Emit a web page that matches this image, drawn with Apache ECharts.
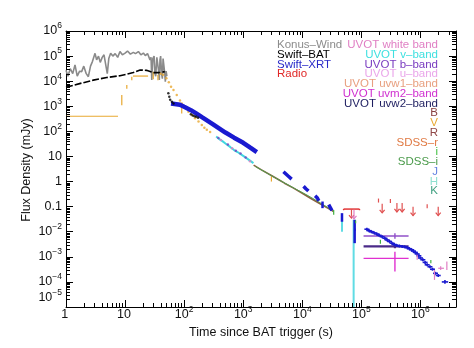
<!DOCTYPE html>
<html><head><meta charset="utf-8">
<script src="https://cdn.jsdelivr.net/npm/echarts@6/dist/echarts.min.js"></script>
<style>html,body{margin:0;padding:0;background:#fff}#c{width:474px;height:348px}</style>
</head><body><div id="c"></div>
<script>
// ---------------- DATA ----------------
const X_MIN = 1, X_MAX = 4e6, Y_MIN = 1e-5, Y_MAX = 1e6;

// Konus-Wind (gray)
const konusT = [1,1.08,1.18,1.3,1.42,1.55,1.7,1.84,2.0,2.2,2.39,2.6,2.8,3.1,3.3,3.55,3.8,4.1,4.4,4.7,5.0,5.3,5.7,6.2,6.8,7.5,8.2,9.0,10,11,12.3,13.8,15,16.8,18.5,20.4,22,24,26.4,27.5,28.3,29.5,31,32,33,34.5,35.8,37,38,39,40,41.5,42.8,44,45.7,47,48,49.5,51];
const konusF = [27500,15800,31600,20000,44700,15800,25100,24000,39800,20000,15100,39800,60300,128800,70800,100000,56200,89100,112200,95500,20000,79400,128800,100000,125900,89100,151400,112200,131800,158500,120200,141300,125900,151400,112200,131800,104700,125900,70800,89100,11200,79400,100000,20000,15800,89100,79400,25100,11200,70800,100000,20000,12600,79400,89100,20000,9500,25100,15800];

// Swift-BAT (black)
const batT = [1,1.7,2.9,4.9,8.2,13.8,18,23,30,39,47];
const batF = [5700,8000,11000,14000,16500,22000,28000,27000,22000,22000,24000];
const batLateT = [54,56,58,62,66,130,140,150,160,172];
const batLateF = [3300,2400,1800,1500,1300,480,430,400,380,350];

// Swift-XRT (blue) : thick segments
const xrtSegT = [
  [60,85,100,130,160,200,300,500,700,1000,1300,1700],
  [4800,5700,6600],
  [10500,11500,12700],
  [16500,18000,19000],
  [28000,30000,31800]
];
const xrtSegF = [
  [1300,1150,950,700,520,370,200,90,56,35,23,15],
  [2.45,1.7,1.25],
  [0.65,0.52,0.42],
  [0.27,0.22,0.17],
  [0.12,0.09,0.07]
];
// XRT vertical error bars [t, F, tLo, tHi, FLo, FHi]
const xrtBars = [
  [22000,0.12,22000,22000,0.087,0.16],
  [47000,0.042,47000,47000,0.025,0.055],
  [77000,0.012,75000,80000,0.0035,0.03]
];
// XRT late points
const xrtLateT = [1.24e5,1.35e5,1.48e5,1.65e5,1.83e5,2.0e5,2.25e5,2.5e5,2.73e5,3.0e5,3.3e5,3.6e5,4.0e5,4.4e5,4.9e5,5.4e5,6.0e5,6.5e5,7.1e5,7.6e5,8.2e5,8.8e5,9.4e5,1.0e6,1.1e6,1.2e6,1.3e6,1.45e6,1.6e6,1.8e6,2.0e6];
const xrtLateF = [0.0126,0.011,0.01,0.009,0.0081,0.0072,0.0063,0.0055,0.0047,0.0041,0.0035,0.0031,0.0028,0.0027,0.0026,0.0025,0.0023,0.0021,0.0019,0.0017,0.0015,0.0013,0.0011,0.0009,0.00076,0.0006,0.00048,0.0004,0.00032,0.00022,0.00018];
const xrtLast = [[2.6e6,1.0e-4,2.3e6,2.95e6,8.5e-5,1.2e-4]];

// V band (orange) early bars and decline
const vBars = [
  [3,400,1,7.6,400,400],
  [8.8,1800,8.8,8.8,1100,2800],
  [10.7,6000,10.7,10.7,5000,7000],
  [13,13000,13,13,11000,15000],
  [19,16000,13.6,24.5,16000,16000],
  [30,17000,30,30,12000,24000],
  [36,14000,36,36,11000,18000],
  [91,900,91,91,520,1300],
  [3000,1.3,3000,3000,1.0,1.6]
];
const vT = [40,44,50,55,60,66,75,85,91,105,118,135,153,175,199,220,242,275];
const vF = [20000,18000,13000,9000,6000,4500,2800,1700,1300,900,600,450,330,250,180,140,115,95];

// UVOT v band (cyan)
const uvvT = [348,400,450,500,600,700,800,1000,1200,1490];
const uvvF = [62,48,40,33,24,18,15,10.5,7.8,5.4];
const uvvBars = [
  [47000,0.018,47000,47000,0.01,0.028],
  [74000,0.02,74000,74000,1e-5,0.03]
];
// UVOT b band / white band points
const uvbT = [380,550,750,900,1100];
const uvbF = [55,30,17,13,9];
const uvwhT = [420,650,1300];
const uvwhF = [45,21,6.5];

// R band (brown) and SDSS-i (green) late lines
const rT = [1500,2000,3000,4000,5000,7000,10000,14000,20000,27000,34000];
const rF = [4.5,3.0,1.75,1.18,0.86,0.56,0.34,0.21,0.13,0.087,0.063];
const iT = [1600,2500,3500,5500,8000,12000,17000,24000,31000];
const iF = [4.0,2.2,1.4,0.78,0.48,0.29,0.18,0.11,0.075];
const iBars = [
  [34000,0.06,34000,34000,0.047,0.074],
  [80000,0.025,80000,80000,0.022,0.028],
  [2.1e5,0.004,2.1e5,2.1e5,0.0033,0.0048],
  [1.5e6,6.5e-4,1.5e6,1.5e6,5.5e-4,7.5e-4]
];

// late UVOT bars
const uvbLate = [[3.7e5,0.0068,1.09e5,6.3e5,0.0052,0.0087]];
const uvw2Late = [[3.7e5,0.0026,1.09e5,6.3e5,0.0022,0.003]];
const uvm2Late = [[3.7e5,8.7e-4,1.09e5,6.3e5,2.6e-4,1.6e-3]];
const whiteLate = [
  [8.8e5,9e-4,8.8e5,8.8e5,7.6e-4,1.2e-3],
  [1.73e6,2.0e-4,1.73e6,1.73e6,1.2e-4,3.0e-4],
  [2.2e6,3.5e-4,2.0e6,2.5e6,3.0e-4,4.2e-4],
  [2.8e6,4.6e-4,2.8e6,2.8e6,3.0e-4,6.5e-4]
];

// Radio (red)
const radioBar = [[7e4,0.08,5e4,9.3e4,0.08,0.08],[5e4,0.08,5e4,5e4,0.072,0.08],[9.3e4,0.08,9.3e4,9.3e4,0.072,0.08]];
const radioT = [6.8e4,1.95e5,2.25e5,3.1e5,4.0e5,4.9e5,7.5e5,1.3e6,2.0e6];
const radioF = [0.08,0.21,0.13,0.2,0.14,0.14,0.1,0.125,0.1];
const radioArrow = [1,0,1,0,1,1,1,0,1];
const whiteUL = [[7.5e4,0.075,1]];

// Legend texts
const legendLeft = ['Konus\u2013Wind','Swift\u2013BAT','Swift\u2013XRT','Radio'];
const legendLeftColors = ['#8c8c8c','#000000','#2a2ac8','#e02828'];
const legendRight = ['UVOT white band','UVOT v\u2013band','UVOT b\u2013band','UVOT u\u2013band','UVOT uvw1\u2013band','UVOT uvm2\u2013band','UVOT uvw2\u2013band','B','V','R','SDSS\u2013r','i','SDSS\u2013i','J','H','K'];
const legendRightColors = ['#e07fc4','#3fe0e0','#7a3cc0','#eaa6ea','#e8a080','#d030d0','#1e1e60','#8a4040','#e8a830','#904848','#e07a44','#40c040','#4a9a4a','#6080e0','#90e0d0','#40a080'];
const yTitle = 'Flux Density (mJy)';
const xTitle = 'Time since BAT trigger (s)';

// ---------------- CHART ----------------
const FONT = "'Liberation Sans', Arial, Helvetica, sans-serif";
const zip = (a, b) => a.map((v, i) => [v, b[i]]);

function errSeries(rows, color, width, z) {
  return {
    type: 'custom', coordinateSystem: 'cartesian2d', data: rows, encode: {x: 0, y: 1},
    z: z || 5, silent: true, animation: false,
    renderItem(params, api) {
      const t = api.value(0), f = api.value(1), t0 = api.value(2), t1 = api.value(3), f0 = api.value(4), f1 = api.value(5);
      const ch = [];
      if (t1 > t0) {
        const a = api.coord([t0, f]), b = api.coord([t1, f]);
        ch.push({type: 'line', shape: {x1: a[0], y1: a[1], x2: b[0], y2: b[1]}, style: {stroke: color, lineWidth: width}});
      }
      if (f1 > f0) {
        const a = api.coord([t, f0]), b = api.coord([t, f1]);
        ch.push({type: 'line', shape: {x1: a[0], y1: a[1], x2: b[0], y2: b[1]}, style: {stroke: color, lineWidth: width}});
      }
      return {type: 'group', children: ch};
    }
  };
}
function crossSeries(rows, color) {
  return {
    type: 'custom', coordinateSystem: 'cartesian2d', data: rows, encode: {x: 0, y: 1}, z: 6, silent: true,
    renderItem(params, api) {
      const p = api.coord([api.value(0), api.value(1)]);
      return {type: 'group', children: [
        {type: 'line', shape: {x1: p[0] - 2.5, y1: p[1], x2: p[0] + 2.5, y2: p[1]}, style: {stroke: color, lineWidth: 1.6}},
        {type: 'line', shape: {x1: p[0], y1: p[1] - 1.5, x2: p[0], y2: p[1] + 1.5}, style: {stroke: color, lineWidth: 1.6}}
      ]};
    }
  };
}
function ulSeries(rows, color) {
  return {
    type: 'custom', coordinateSystem: 'cartesian2d', data: rows, encode: {x: 0, y: 1}, z: 6, silent: true,
    renderItem(params, api) {
      const p = api.coord([api.value(0), api.value(1)]);
      const arrow = api.value(2);
      const L = arrow ? 9 : 4;
      const ch = [{type: 'line', shape: {x1: p[0], y1: p[1], x2: p[0], y2: p[1] + L}, style: {stroke: color, lineWidth: 1.2}}];
      if (arrow) ch.push({type: 'polyline', shape: {points: [[p[0] - 2.5, p[1] + L - 3], [p[0], p[1] + L], [p[0] + 2.5, p[1] + L - 3]]}, style: {stroke: color, fill: null, lineWidth: 1.2}});
      return {type: 'group', children: ch};
    }
  };
}

// minor tick positions (2..9 x 10^k)
const minorRows = [];
for (let e = 0; e <= 6; e++) for (let m = 2; m <= 9; m++) { const v = m * Math.pow(10, e); if (v < X_MAX) minorRows.push([v, Y_MIN, 0]); }
for (let e = -5; e <= 5; e++) for (let m = 2; m <= 9; m++) minorRows.push([X_MIN, m * Math.pow(10, e), 1]);
const minorSeries = {
  type: 'custom', coordinateSystem: 'cartesian2d', data: minorRows, encode: {x: 0, y: 1}, z: 20, silent: true,
  renderItem(params, api) {
    const cs = params.coordSys;
    const st = {stroke: '#000', lineWidth: 1};
    if (api.value(2) === 0) {
      const x = Math.round(api.coord([api.value(0), Y_MIN])[0]) + 0.5;
      return {type: 'group', children: [
        {type: 'line', shape: {x1: x, y1: cs.y + cs.height, x2: x, y2: cs.y + cs.height - 4}, style: st},
        {type: 'line', shape: {x1: x, y1: cs.y, x2: x, y2: cs.y + 4}, style: st}
      ]};
    }
    const y = Math.round(api.coord([X_MIN, api.value(1)])[1]) + 0.5;
    return {type: 'group', children: [
      {type: 'line', shape: {x1: cs.x, y1: y, x2: cs.x + 4, y2: y}, style: st},
      {type: 'line', shape: {x1: cs.x + cs.width, y1: y, x2: cs.x + cs.width - 4, y2: y}, style: st}
    ]};
  }
};

function powLabel(v, isY) {
  const l = Math.log10(v), e = Math.round(l);
  if (Math.abs(l - e) > 1e-6) return '';
  if (e === 0) return isY ? '{b|1}' : '{b|1}{s| }';
  if (e === 1) return isY ? '{b|10}' : '{b|10}{s| }';
  if (e === -1 && isY) return '{b|0.1}';
  const ex = (e < 0 ? '\u2212' + (-e) : e);
  if (isY && e === -5) return '{b2|10}{s2|' + ex + '}';
  return '{b|10}{s|' + ex + '}';
}
const rich = {
  b: {fontSize: 12.5, fontFamily: FONT, color: '#111', lineHeight: 13, verticalAlign: 'bottom'},
  s: {fontSize: 8.5, fontFamily: FONT, color: '#111', lineHeight: 9, padding: [0, 0, 7, 0], verticalAlign: 'bottom'},
  b2: {fontSize: 12.5, fontFamily: FONT, color: '#111', lineHeight: 13, padding: [0, 0, 9, 0], verticalAlign: 'bottom'},
  s2: {fontSize: 8.5, fontFamily: FONT, color: '#111', lineHeight: 9, padding: [0, 0, 16, 0], verticalAlign: 'bottom'}
};
const axLine = {show: true, lineStyle: {color: '#000', width: 1}};
const axTick = {show: true, inside: true, length: 7, lineStyle: {color: '#000', width: 1}};

const series = [
  {type: 'line', data: zip(konusT, konusF), showSymbol: false, lineStyle: {color: '#8a8a8a', width: 1.6}, z: 2, animation: false},
  {type: 'line', data: zip(batT, batF), showSymbol: false, lineStyle: {color: '#000', width: 1.6, type: [7, 2]}, z: 3, animation: false},
  {type: 'scatter', data: zip(batLateT, batLateF), symbolSize: 2.5, itemStyle: {color: '#000'}, z: 4, animation: false},
  errSeries(vBars, '#e8a830', 1.2, 3),
  {type: 'scatter', data: zip(vT, vF), symbolSize: 2.5, itemStyle: {color: '#e8a830'}, z: 3, animation: false},
];
xrtSegT.forEach((seg, k) => series.push({type: 'line', data: zip(seg, xrtSegF[k]), showSymbol: false, lineStyle: {color: '#1a1ad0', width: k === 0 ? 4.5 : 3.5}, z: 4, animation: false}));
series.push(
  errSeries(xrtBars, '#1a1ad0', 2.5, 5),
  {type: 'line', data: zip(uvvT, uvvF), showSymbol: false, lineStyle: {color: '#40d8e0', width: 2}, z: 3, animation: false},
  errSeries(uvvBars, '#60dce4', 2, 3),
  {type: 'scatter', data: zip(uvbT, uvbF), symbolSize: 2.5, itemStyle: {color: '#7a3cc0'}, z: 4, animation: false},
  {type: 'scatter', data: zip(uvwhT, uvwhF), symbolSize: 2.5, itemStyle: {color: '#e07fc4'}, z: 4, animation: false},
  {type: 'line', data: zip(rT, rF), showSymbol: false, lineStyle: {color: '#8a6040', width: 1.6}, z: 3, animation: false},
  {type: 'line', data: zip(iT, iF), showSymbol: false, lineStyle: {color: '#50a050', width: 1}, z: 3, animation: false},
  errSeries(iBars, '#40b040', 1.2, 5),
  errSeries(radioBar, '#e02828', 1.4, 5),
  ulSeries(zip(radioT, radioF).map((r, i) => [r[0], r[1], radioArrow[i]]), '#e05050'),
  ulSeries(whiteUL, '#e07fc4'),
  errSeries(uvbLate, '#9050c8', 1.4, 5),
  errSeries(uvw2Late, '#4a2a88', 2.2, 5),
  errSeries(uvm2Late, '#e030d0', 1.4, 5),
  crossSeries(zip(xrtLateT, xrtLateF), '#1a1ad0'),
  errSeries(xrtLast, '#1a1ad0', 1.6, 6),
  errSeries(whiteLate, '#e07fc4', 1.2, 6),
  minorSeries
);

const graphics = [];
legendLeft.forEach((t, i) => graphics.push({type: 'text', left: 277, top: 39 + i * 9.75, silent: true, z: 30,
  style: {text: t, fill: legendLeftColors[i], font: '11.5px ' + FONT}}));
legendRight.forEach((t, i) => graphics.push({type: 'text', right: 474 - 438, top: 39 + i * 9.75, silent: true, z: 30,
  style: {text: t, fill: legendRightColors[i], font: '11.5px ' + FONT, textAlign: 'right'}}));
graphics.push({type: 'text', x: 27, y: 170, rotation: Math.PI / 2, silent: true, z: 30,
  style: {text: yTitle, fill: '#111', font: '12.5px ' + FONT, align: 'center', verticalAlign: 'middle'}});

const chart = echarts.init(document.getElementById('c'), null, {renderer: 'canvas'});
chart.setOption({
  animation: false,
  backgroundColor: '#fff',
  grid: {left: 66, right: 18, top: 31, bottom: 41},
  xAxis: [
    {type: 'log', logBase: 10, min: X_MIN, max: X_MAX, interval: 1, position: 'bottom',
     name: xTitle, nameLocation: 'middle', nameGap: 18,
     nameTextStyle: {fontSize: 12.5, fontFamily: FONT, color: '#111'},
     axisLine: axLine, axisTick: axTick, splitLine: {show: false}, minorTick: {show: false},
     axisLabel: {margin: 1, formatter: v => powLabel(v, false), rich: rich, showMaxLabel: false, hideOverlap: false}},
    {type: 'log', logBase: 10, min: X_MIN, max: X_MAX, interval: 1, position: 'top',
     axisLine: axLine, axisTick: axTick, splitLine: {show: false}, axisLabel: {show: false}}
  ],
  yAxis: [
    {type: 'log', logBase: 10, min: Y_MIN, max: Y_MAX, interval: 1, splitNumber: 11, position: 'left',
     axisLine: axLine, axisTick: axTick, splitLine: {show: false},
     axisLabel: {margin: 4, formatter: v => powLabel(v, true), rich: rich, hideOverlap: false}},
    {type: 'log', logBase: 10, min: Y_MIN, max: Y_MAX, interval: 1, splitNumber: 11, position: 'right',
     axisLine: axLine, axisTick: axTick, splitLine: {show: false}, axisLabel: {show: false}}
  ],
  graphic: graphics,
  series: series
});
</script>
</body></html>
